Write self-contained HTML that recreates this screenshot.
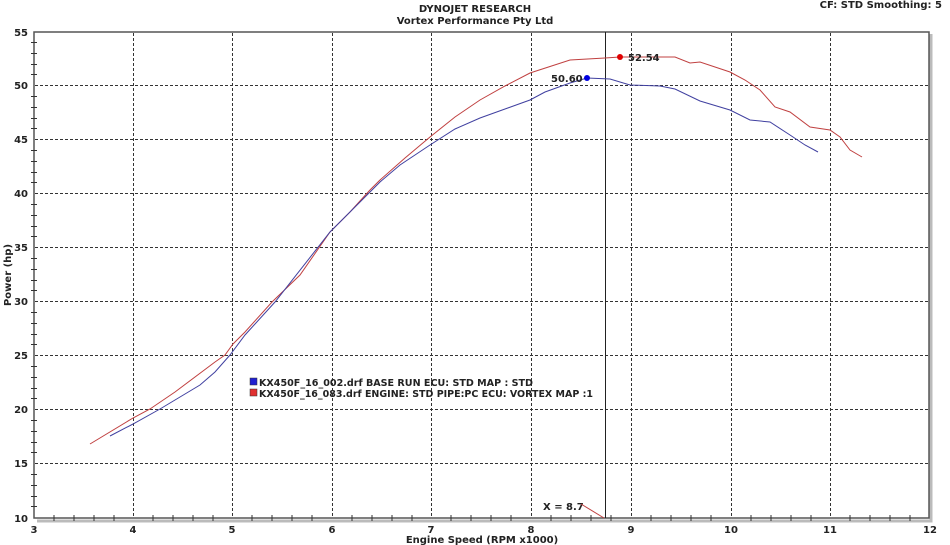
<!DOCTYPE html>
<html><head><style>
body{margin:0;background:#fff;}
svg{display:block;font-family:"DejaVu Sans","Liberation Sans",sans-serif;}
.t{font-size:10px;font-weight:bold;fill:#222;}
</style></head><body>
<svg width="950" height="545" viewBox="0 0 950 545">
<rect x="0" y="0" width="950" height="545" fill="#fff"/>
<text x="475" y="12" text-anchor="middle" class="t">DYNOJET RESEARCH</text>
<text x="475" y="24" text-anchor="middle" class="t">Vortex Performance Pty Ltd</text>
<text x="942" y="8" text-anchor="end" class="t">CF: STD  Smoothing: 5</text>
<path d="M931 34 L931 521 L37 521" fill="none" stroke="#bbb" stroke-width="3"/>
<rect x="34" y="32" width="895" height="486" fill="#fff" stroke="#555" stroke-width="1.5"/>
<g stroke="#333" stroke-width="1" stroke-dasharray="3,2">
<line x1="133.5" y1="33" x2="133.5" y2="518"/><line x1="232.5" y1="33" x2="232.5" y2="518"/>
<line x1="332.5" y1="33" x2="332.5" y2="518"/><line x1="431.5" y1="33" x2="431.5" y2="518"/>
<line x1="531.5" y1="33" x2="531.5" y2="518"/><line x1="631.5" y1="33" x2="631.5" y2="518"/>
<line x1="731.5" y1="33" x2="731.5" y2="518"/><line x1="830.5" y1="33" x2="830.5" y2="518"/>
<line x1="35" y1="85.5" x2="929" y2="85.5"/><line x1="35" y1="139.5" x2="929" y2="139.5"/>
<line x1="35" y1="193.5" x2="929" y2="193.5"/><line x1="35" y1="247.5" x2="929" y2="247.5"/>
<line x1="35" y1="301.5" x2="929" y2="301.5"/><line x1="35" y1="355.5" x2="929" y2="355.5"/>
<line x1="35" y1="409.5" x2="929" y2="409.5"/><line x1="35" y1="463.5" x2="929" y2="463.5"/>
</g>
<path id="ticks" stroke="#333" stroke-width="1" fill="none" d="
M54 515v6M74 515v6M94 515v6M114 515v6M153 515v6M173 515v6M193 515v6M213 515v6M252 515v6M272 515v6M292 515v6M312 515v6M352 515v6M372 515v6M392 515v6M412 515v6M451 515v6M471 515v6M491 515v6M511 515v6M551 515v6M571 515v6M591 515v6M611 515v6M651 515v6M671 515v6M691 515v6M711 515v6M751 515v6M771 515v6M791 515v6M811 515v6M850 515v6M870 515v6M890 515v6M910 515v6
M31 42.5h6M31 53.5h6M31 64.5h6M31 74.5h6M31 96.5h6M31 107.5h6M31 118.5h6M31 128.5h6M31 150.5h6M31 161.5h6M31 172.5h6M31 182.5h6M31 204.5h6M31 215.5h6M31 226.5h6M31 236.5h6M31 258.5h6M31 269.5h6M31 280.5h6M31 290.5h6M31 312.5h6M31 323.5h6M31 334.5h6M31 344.5h6M31 366.5h6M31 377.5h6M31 388.5h6M31 398.5h6M31 420.5h6M31 431.5h6M31 442.5h6M31 452.5h6M31 474.5h6M31 485.5h6M31 496.5h6M31 506.5h6"/>
<g class="t" text-anchor="end">
<text x="28" y="36">55</text><text x="28" y="89">50</text><text x="28" y="143">45</text>
<text x="28" y="197">40</text><text x="28" y="251">35</text><text x="28" y="305">30</text>
<text x="28" y="359">25</text><text x="28" y="413">20</text><text x="28" y="467">15</text>
<text x="28" y="522">10</text>
</g>
<g class="t" text-anchor="middle">
<text x="34" y="533">3</text><text x="133" y="533">4</text><text x="232" y="533">5</text>
<text x="332" y="533">6</text><text x="431" y="533">7</text><text x="531" y="533">8</text>
<text x="631" y="533">9</text><text x="731" y="533">10</text><text x="830" y="533">11</text>
<text x="930" y="533">12</text>
</g>
<text x="482" y="543" text-anchor="middle" class="t">Engine Speed (RPM x1000)</text>
<text transform="translate(11,275) rotate(-90)" text-anchor="middle" class="t">Power (hp)</text>
<line x1="605.5" y1="32" x2="605.5" y2="518" stroke="#222" stroke-width="1"/>
<polyline fill="none" stroke="#c04040" stroke-width="1" points="90,444 133,418 150,409 175,392 215,362 225,355 233,344 245,332 272,302 300,275 330,232 350,212 370,190 380,180 405,158 430,137 455,117 480,100 505,86 530,73 570,60 605,58 620,57 675,57 690,63 700,62 715,67 730,72 745,80 760,90 775,107 790,112 810,127 830,130 840,137 850,150 862,157"/>
<polyline fill="none" stroke="#4040a0" stroke-width="1" points="110,436 133,424 160,409 200,385 215,372 230,355 245,335 275,302 330,232 370,192 380,182 400,165 430,145 455,129 480,118 505,109 530,100 545,92 570,83 587,78 610,79 630,85 660,86 675,89 700,101 730,110 750,120 770,122 790,135 805,145 818,152"/>
<circle cx="587" cy="78" r="3" fill="#0000e0"/>
<circle cx="620" cy="57" r="3" fill="#e00000"/>
<text x="551" y="82" class="t">50.60</text>
<text x="628" y="61" class="t">52.54</text>
<text x="543" y="510" class="t">X = 8.7</text>
<line x1="581" y1="504" x2="604" y2="518" stroke="#c04040" stroke-width="1"/>
<rect x="250" y="378" width="7" height="7" fill="#2020d0" stroke="#333" stroke-width="0.5"/>
<rect x="250" y="389" width="7" height="7" fill="#e03030" stroke="#333" stroke-width="0.5"/>
<text x="259" y="386" class="t" textLength="274" lengthAdjust="spacingAndGlyphs">KX450F_16_002.drf BASE RUN  ECU: STD MAP : STD</text>
<text x="259" y="397" class="t" textLength="334" lengthAdjust="spacingAndGlyphs">KX450F_16_083.drf ENGINE: STD PIPE:PC  ECU: VORTEX MAP :1</text>
</svg>
</body></html>
